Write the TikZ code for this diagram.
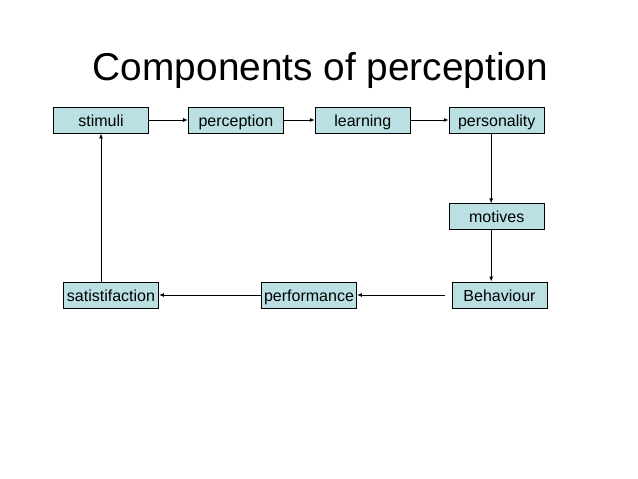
\documentclass[tikz,border=0pt]{standalone}
\usepackage{fontspec}
\setmainfont{Liberation Sans}
\usetikzlibrary{arrows.meta,positioning,calc}
\definecolor{boxfill}{HTML}{BBE0E3}

\begin{document}
\begin{tikzpicture}[x=1pt, y=-1pt, node distance=39pt and 39pt,
    every node/.style={font=\fontsize{16}{19}\selectfont, inner sep=0pt},
    compbox/.style={draw, line width=0.9pt, fill=boxfill, minimum width=95pt, minimum height=26pt,
      text height=13pt, text depth=1pt},
    flow/.style={-{Latex[length=5pt,width=4pt]}, line width=0.9pt}]
\useasboundingbox (0,0) rectangle (638,479);
% Title
\node[font=\fontsize{38.8}{44}\selectfont, anchor=base] (title) at (320.5,80) {Components of perception};
% Top row
\node[compbox] (stimuli) at (101,120) {stimuli};
\node[compbox, right=39pt of stimuli] (perception) {perception};
\node[compbox, right=31pt of perception] (learning) {learning};
\node[compbox, right=38pt of learning] (personality) {personality};
% Right column
\node[compbox, below=70pt of personality] (motives) {motives};
\node[compbox] (behaviour) at (499.5,295) {Behaviour};
% Bottom row
\node[compbox] (performance) at (309,295) {performance};
\node[compbox] (satisfaction) at (111,295) {satistifaction};
% Arrows
\draw[flow] (stimuli) -- (perception);
\draw[flow] (perception) -- (learning);
\draw[flow] (learning) -- (personality);
\draw[flow] ([xshift=-5.5pt]personality.south) -- ([xshift=-5.5pt]motives.north);
\draw[flow] ([xshift=-5.5pt]motives.south) -- ([xshift=-5.5pt]motives.south |- behaviour.north);
\draw[flow, shorten <=7pt] (behaviour) -- (performance);
\draw[flow] (performance) -- (satisfaction);
\draw[flow] (satisfaction.north -| stimuli.south) -- (stimuli.south);
\end{tikzpicture}
\end{document}
